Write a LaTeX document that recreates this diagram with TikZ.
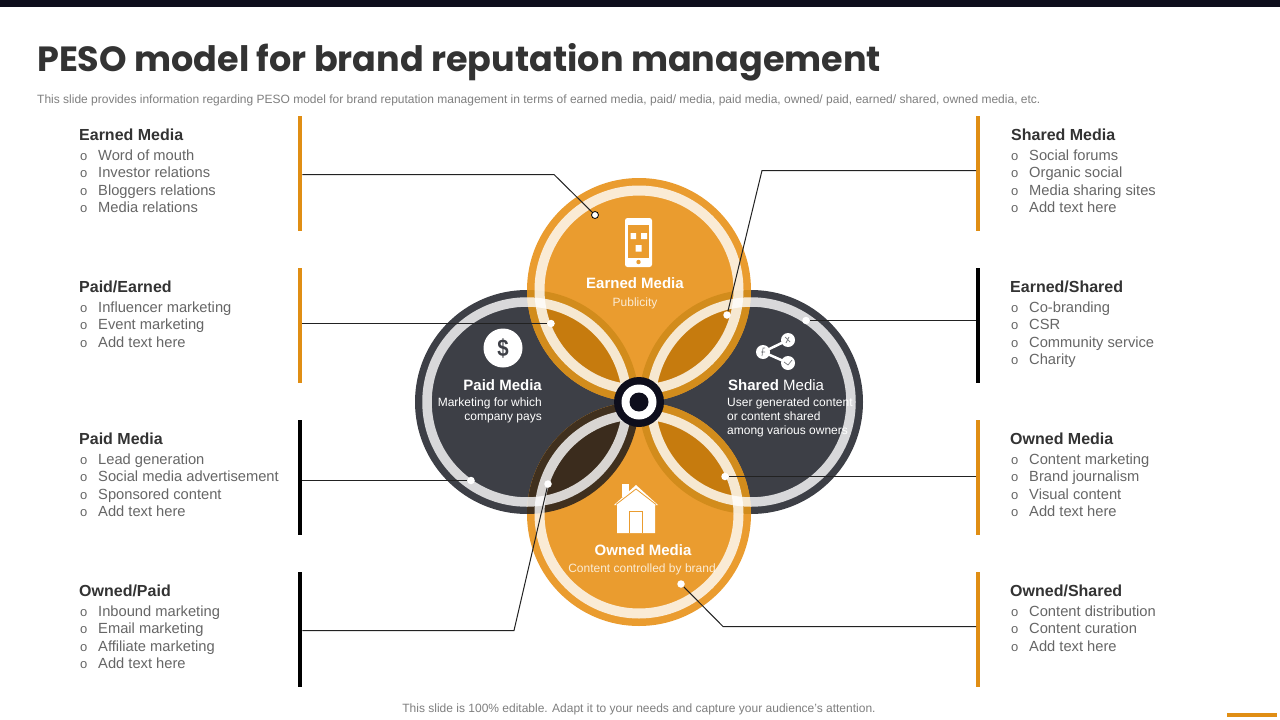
\documentclass[tikz,border=0pt]{standalone}
\usepackage{fontspec}
\setmainfont{Liberation Sans}
\newfontfamily\titlefont{Poppins}
\definecolor{ora}{HTML}{EA9C2F}
\definecolor{bar}{HTML}{E08E14}
\definecolor{lensB}{HTML}{D28C1C}
\definecolor{lensO}{HTML}{C67B0E}
\definecolor{lensD}{HTML}{3B2C1D}
\definecolor{lensE}{HTML}{40301E}
\definecolor{slate}{HTML}{3D3F46}
\definecolor{ink}{HTML}{0E0E1C}
\definecolor{head}{HTML}{333333}
\definecolor{item}{HTML}{666666}
\definecolor{note}{HTML}{7F7F7F}
\definecolor{pale}{HTML}{FBEBD3}
\definecolor{wire}{HTML}{222222}
\tikzset{
  headtxt/.style={anchor=base west,text=head,inner sep=0pt,font=\fontsize{16}{16}\selectfont\bfseries},
  itemtxt/.style={anchor=base west,text=item,inner sep=0pt,font=\fontsize{14.7}{14.7}\selectfont},
  bultxt/.style={anchor=base west,text=item,inner sep=0pt,font=\fontsize{13}{13}\selectfont},
  barbox/.style={minimum width=4pt,minimum height=115pt,inner sep=0pt,anchor=north west,fill=#1},
  conn/.style={draw=wire,line width=1pt},
  dotn/.style={circle,fill=white,minimum size=7.5pt,inner sep=0pt},
  ringl/.style={draw=white,draw opacity=0.8,line width=#1},
  wtxt/.style={text=white,inner sep=0pt,anchor=base,font=\fontsize{12}{12}\selectfont},
  wbold/.style={text=white,inner sep=0pt,anchor=base,font=\fontsize{15}{15}\selectfont\bfseries},
}
\newcommand\infolist[7]{%
  \node[headtxt] (#1h) at (#2,#5) {#6};
  \foreach \t [count=\i] in {#7} {
    \node[bultxt] (#1b\i) at (#3,#5+2.5+17.5*\i) {o};
    \node[itemtxt] (#1t\i) at (#4,#5+2.5+17.5*\i) {\t};
  }%
}
\newcommand\lens[4]{%
  \begin{scope}\clip (#1) circle (112); \fill[#3] (#2) circle (112); \clip (#1) circle (95); \fill[#4] (#2) circle (95); \end{scope}%
}
\begin{document}
\begin{tikzpicture}[x=1pt,y=-1pt]
\useasboundingbox (0,0) rectangle (1280,720);
\fill[white] (0,0) rectangle (1280,720);
\fill[ink] (0,0) rectangle (1280,7);
\node[anchor=base west,inner sep=0pt,text=head] (title) at (37,71)
  {\titlefont\fontsize{35}{35}\selectfont\bfseries PESO model for brand reputation management};
\node[anchor=base west,inner sep=0pt,text=note,font=\fontsize{12}{12}\selectfont] (sub) at (37,103)
  {This slide provides information regarding PESO model for brand reputation management in terms of earned media, paid/ media, paid media, owned/ paid, earned/ shared, owned media, etc.};
\node[anchor=base,inner sep=0pt,text=note,font=\fontsize{12}{12}\selectfont] (foot) at (639,712)
  {This slide is 100\% editable. Adapt it to your needs and capture your audience's attention.};
\fill[bar] (1227,713) rectangle (1277,717);

\coordinate (T) at (639,290);
\coordinate (B) at (639,514);
\coordinate (L) at (527,402);
\coordinate (R) at (751,402);
\coordinate (C) at (639,402);
\fill[slate] (L) circle (112) (R) circle (112);
\fill[ora] (T) circle (112) (B) circle (112);
\lens{T}{L}{lensB}{lensO}
\lens{T}{R}{lensB}{lensO}
\lens{B}{R}{lensB}{lensO}
\lens{B}{L}{lensE}{lensD}

\fill[white,rounded corners=2.5pt] (625,218) rectangle (652,267);
\fill[ora] (628,225) rectangle (649,258);
\fill[ora] (638.5,262) circle (2.2);
\fill[white] (630.5,233) rectangle (636,239) (641,233) rectangle (647,239) (635.5,245) rectangle (641.5,251.5);
\fill[white] (503,348) circle (19.5);
\node[inner sep=0pt,text=slate,font=\fontsize{24}{24}\selectfont\bfseries] (dollar) at (503,348) {\scalebox{.85}[1]{\$}};
\draw[white,line width=2.5pt] (788,340) -- (763,352) -- (788,363);
\fill[white] (788,340) circle (7) (763,352) circle (7) (788,363) circle (7);
\draw[slate!70,line width=0.7pt] (786,343) -- (789,337) (785,337)--(790,342) (762,356)--(763,348)--(765,348) (761,352)--(765,352) (784,362)--(788,365)--(792,360);
\fill[white] (622,484) rectangle (629,497);
\fill[white] (614,505) -- (636,485) -- (658,505) -- (655,505) -- (655,533) -- (617,533) -- (617,505) -- cycle;
\draw[ora,line width=0.8pt] (616,504.5) -- (636,489) -- (656,504.5);
\draw[ora,line width=0.8pt] (629,533) -- (629,511) -- (642,511) -- (642,533);

\node[wbold] (eT) at (635,288) {Earned Media};
\node[wtxt,text=pale] (eS) at (635,306) {Publicity};
\node[wbold,anchor=base east] (pT) at (542,390) {Paid Media};
\node[wtxt,anchor=base east] (pS1) at (542,406) {Marketing for which};
\node[wtxt,anchor=base east] (pS2) at (542,420) {company pays};
\node[wbold,anchor=base west] (sT) at (728,390) {Shared\fontseries{m}\selectfont{} Media};
\node[wtxt,anchor=base west] (sS1) at (727,406) {User generated content};
\node[wtxt,anchor=base west] (sS2) at (727,420) {or content shared};
\node[wtxt,anchor=base west] (sS3) at (727,434) {among various owners};
\node[wbold] (oT) at (643,555) {Owned Media};
\node[wtxt,text=pale] (oS) at (642,572) {Content controlled by brand};

\draw[ringl=9.5pt] (L) circle (100);
\draw[ringl=9.5pt] (R) circle (100);
\draw[ringl=10pt] (T) circle (99.5);
\draw[ringl=10pt] (B) circle (99.5);

\fill[ink] (C) circle (25);
\fill[white] (C) circle (17.5);
\fill[ink] (C) circle (9.5);

\node[barbox=bar] (bl1) at (298,116) {};
\node[barbox=bar] (bl2) at (298,268) {};
\node[barbox=black] (bl3) at (298,420) {};
\node[barbox=black] (bl4) at (298,572) {};
\node[barbox=bar] (br1) at (976,116) {};
\node[barbox=black] (br2) at (976,268) {};
\node[barbox=bar] (br3) at (976,420) {};
\node[barbox=bar] (br4) at (976,572) {};

\coordinate (k1) at (554,174.5);
\coordinate (k4) at (514,630.5);
\coordinate (k5) at (762,170.5);
\coordinate (k8) at (723,626.5);
\node[dotn,draw=black,line width=0.8pt,minimum size=7pt] (d1) at (595,215) {};
\node[dotn] (d2) at (551,323.5) {};
\node[dotn] (d3) at (471,480.5) {};
\node[dotn] (d4) at (548,484) {};
\node[dotn] (d5) at (727,315) {};
\node[dotn] (d6) at (806,320.5) {};
\node[dotn] (d7) at (725,476.5) {};
\node[dotn] (d8) at (681,584) {};

\draw[conn] (bl1.east |- k1) -- (k1) -- (d1);
\draw[conn] (bl2.east |- d2) -- (d2.west);
\draw[conn] (bl3.east |- d3) -- (d3.west);
\draw[conn] (bl4.east |- k4) -- (k4) -- (d4);
\draw[conn] (br1.west |- k5) -- (k5) -- (d5);
\draw[conn] (br2.west |- d6) -- (d6.east);
\draw[conn] (br3.west |- d7) -- (d7.east);
\draw[conn] (br4.west |- k8) -- (k8) -- (d8);

\infolist{a}{79}{80}{98}{140}{Earned Media}{Word of mouth,Investor relations,Bloggers relations,Media relations}
\infolist{b}{79}{80}{98}{292}{Paid/Earned}{Influencer marketing,Event marketing,Add text here}
\infolist{c}{79}{80}{98}{444}{Paid Media}{Lead generation,Social media advertisement,Sponsored content,Add text here}
\infolist{e}{79}{80}{98}{596}{Owned/Paid}{Inbound marketing,Email marketing,Affiliate marketing,Add text here}
\infolist{f}{1011}{1011}{1029}{140}{Shared Media}{Social forums,Organic social,Media sharing sites,Add text here}
\infolist{g}{1010}{1011}{1029}{292}{Earned/Shared}{Co-branding,CSR,Community service,Charity}
\infolist{h}{1010}{1011}{1029}{444}{Owned Media}{Content marketing,Brand journalism,Visual content,Add text here}
\infolist{i}{1010}{1011}{1029}{596}{Owned/Shared}{Content distribution,Content curation,Add text here}
\end{tikzpicture}
\end{document}
